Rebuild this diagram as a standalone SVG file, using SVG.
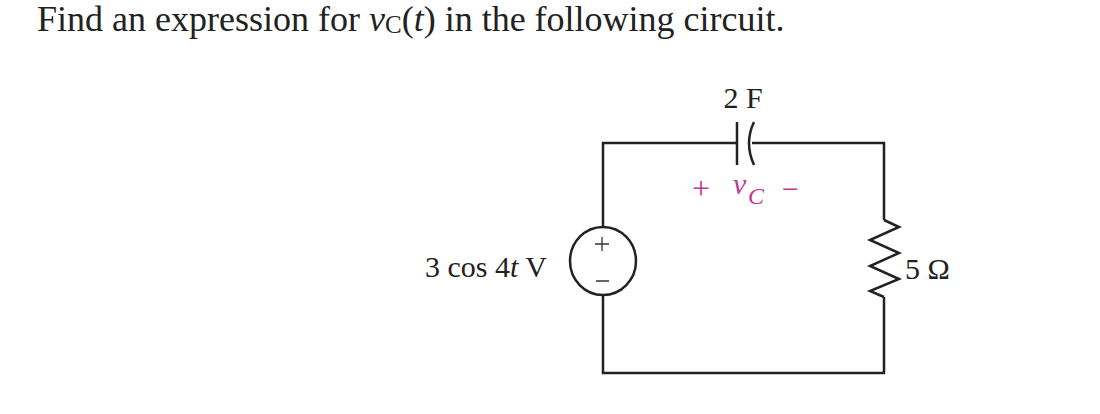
<svg xmlns="http://www.w3.org/2000/svg" width="1100" height="414" viewBox="0 0 1100 414">
<style>
.w{fill:none;stroke:#222;stroke-width:2.5}
.t{font-family:"Liberation Serif",serif;fill:#222}
.m{font-family:"Liberation Serif",serif;fill:#c0398f}
</style>
<rect width="1100" height="414" fill="#fff"/>
<text class="t" x="37" y="31" font-size="36">Find an expression for <tspan font-style="italic">v</tspan><tspan font-size="25" dy="2">C</tspan><tspan dy="-2">(</tspan><tspan font-style="italic">t</tspan>) in the following circuit.</text>
<g id="wires">
<path class="w" d="M737,143 H603 V227 M603,295 V373 H884 V297 M884,220 V143 H752"/>
</g>
<g id="source">
<ellipse class="w" cx="603" cy="261" rx="33" ry="34"/>
<path d="M595,244 h14 M602,237 v14 M596,281 h13" stroke="#333" stroke-width="1.3"/>
<text class="t" x="547" y="277" font-size="30" text-anchor="end">3 cos 4<tspan font-style="italic">t</tspan> V</text>
</g>
<g id="capacitor">
<path class="w" d="M737,122 V165 M754,122 Q744,143 754,165"/>
<text class="t" x="743" y="108" font-size="30" text-anchor="middle">2 F</text>
<text class="m" x="692" y="199" font-size="32">+</text>
<text class="m" x="733" y="194" font-size="30" font-style="italic">v</text>
<text class="m" x="748" y="204" font-size="24" font-style="italic">C</text>
<text class="m" x="782" y="199" font-size="30">−</text>
</g>
<g id="resistor">
<path class="w" d="M884,220 L899,227 L870,240 L899,253 L870,266 L899,279 L870,291 L884,297"/>
<text class="t" x="905" y="279" font-size="30">5 Ω</text>
</g>
</svg>
